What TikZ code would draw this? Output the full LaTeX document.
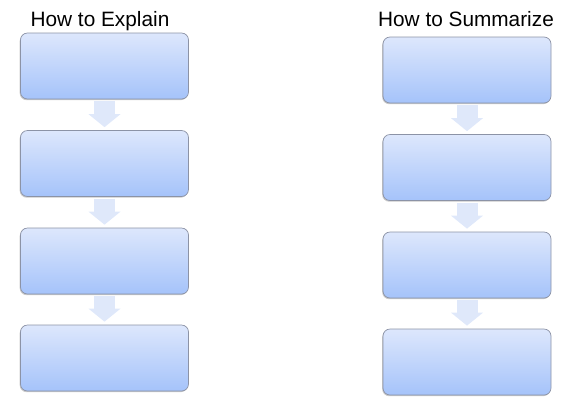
\documentclass[tikz,border=0pt]{standalone}
\usepackage{fontspec}
\setmainfont{Liberation Sans}
\usetikzlibrary{arrows.meta,shadows}
\definecolor{boxtop}{HTML}{DDE7FC}
\definecolor{boxbot}{HTML}{A5C3FA}
\definecolor{boxline}{HTML}{8C93A6}
\definecolor{flowfill}{HTML}{DFE8FA}

\begin{document}
\begin{tikzpicture}[x=1pt,y=-1pt,
    box/.style={rectangle,rounded corners=7pt,minimum width=168pt,minimum height=66pt,
        draw=boxline,line width=0.7pt,top color=boxtop,bottom color=boxbot,
        drop shadow={shadow xshift=-0.8pt,shadow yshift=-1.2pt,opacity=0.35,fill=black!60}},
    flow/.style={draw=flowfill,line width=21pt,
        -{Triangle[width=32pt,length=13pt,line width=0pt 0 0]}},
    title/.style={font=\fontsize{20.8}{24}\selectfont,anchor=base}]
    \useasboundingbox (0,0) rectangle (575,416);
    % Explain
    \node[title] (AT) at (100,26) {How to Explain};
    \draw (104.5,66) node[box] (A1) {};
    \draw (104.5,163.5) node[box] (A2) {};
    \draw (104.5,261) node[box] (A3) {};
    \draw (104.5,358) node[box] (A4) {};
    % Summarize
    \node[title] (BT) at (466,26) {How to Summarize};
    \draw (467,70) node[box] (B1) {};
    \draw (467,167.5) node[box] (B2) {};
    \draw (467,265) node[box] (B3) {};
    \draw (467,362) node[box] (B4) {};
    % Links
    \draw [flow] ([yshift=-2pt]A1.south) -- ([yshift=3pt]A2.north);
    \draw [flow] ([yshift=-2pt]A2.south) -- ([yshift=3pt]A3.north);
    \draw [flow] ([yshift=-2pt]A3.south) -- ([yshift=3pt]A4.north);
    \draw [flow] ([yshift=-2pt]B1.south) -- ([yshift=3pt]B2.north);
    \draw [flow] ([yshift=-2pt]B2.south) -- ([yshift=3pt]B3.north);
    \draw [flow] ([yshift=-2pt]B3.south) -- ([yshift=3pt]B4.north);
\end{tikzpicture}
\end{document}
